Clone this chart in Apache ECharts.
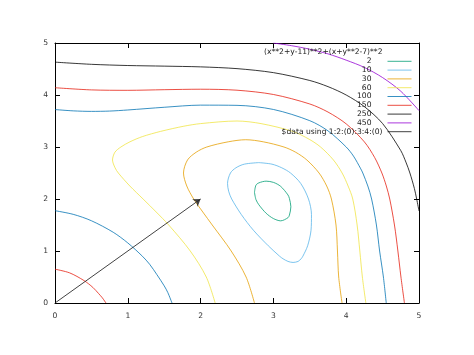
<!DOCTYPE html>
<html><head><meta charset="utf-8">
<script src="https://cdn.jsdelivr.net/npm/echarts@6/dist/echarts.min.js"></script>
<style>html,body{margin:0;padding:0;background:#fff}#c{width:474px;height:355px}</style>
</head><body><div id="c"></div>
<script>
// ---- data ----
const xTicks = [0, 1, 2, 3, 4, 5];
const yTicks = [0, 1, 2, 3, 4, 5];
const keyTitle = '(x**2+y-11)**2+(x+y**2-7)**2';
const levels = ['2', '10', '30', '60', '100', '150', '250', '450'];
const vectorName = '$data using 1:2:(0):3:4:(0)';
const vectors = [[0, 0, 2, 2]];

const contour2 = [[2.74,2.13],[2.76,2.265],[2.8,2.31],[2.9,2.343],[3.0,2.32],[3.1,2.243],[3.2,2.078],[3.22,2.01],[3.24,1.85],[3.22,1.69],[3.2,1.64],[3.1,1.58],[3.0,1.624],[2.9,1.726],[2.8,1.89],[2.76,1.99],[2.74,2.13]];
const contour10 = [[2.8,2.70],[2.98,2.67],[3.115,2.6],[3.235,2.5],[3.375,2.3],[3.482,2.0],[3.523,1.7],[3.517,1.4],[3.47,1.1],[3.405,0.9],[3.38,0.85],[3.34,0.8],[3.27,0.78],[3.2,0.8],[3.133,0.85],[3.085,0.9],[2.93,1.1],[2.725,1.4],[2.56,1.7],[2.427,2.0],[2.385,2.15],[2.37,2.3],[2.41,2.5],[2.485,2.6],[2.6,2.67],[2.8,2.70]];
const contour30 = [[2.74,0],[2.625,0.5],[2.42,1.0],[2.16,1.5],[2.03,1.75],[1.905,2.0],[1.81,2.25],[1.765,2.5],[1.82,2.75],[1.94,2.9],[2.085,3.0],[2.38,3.1],[2.62,3.14],[2.86,3.1],[3.145,3.0],[3.305,2.9],[3.46,2.75],[3.627,2.5],[3.732,2.25],[3.797,2.0],[3.86,1.5],[3.88,1.0],[3.897,0.5],[3.943,0]];
const contour60 = [[2.2,0],[2.078,0.5],[1.858,1.0],[1.562,1.5],[1.39,1.75],[1.21,2.0],[1.028,2.25],[0.87,2.5],[0.825,2.6],[0.79,2.75],[0.823,2.9],[0.905,3.0],[1.03,3.1],[1.2,3.2],[1.45,3.3],[1.77,3.4],[2.0,3.45],[2.5,3.5],[2.83,3.45],[3.265,3.3],[3.49,3.15],[3.648,3.0],[3.825,2.75],[3.944,2.5],[4.026,2.25],[4.09,2.0],[4.15,1.5],[4.187,1.0],[4.222,0.5],[4.27,0]];
const contour100a = [[0,3.72],[0.25,3.695],[0.5,3.685],[0.75,3.691],[1.0,3.712],[1.5,3.764],[2.0,3.805],[2.5,3.801],[3.0,3.722],[3.5,3.506],[3.75,3.31],[4.0,3.0],[4.1,2.825],[4.2,2.58],[4.228,2.5],[4.297,2.25],[4.349,2.0],[4.415,1.5],[4.459,1.0],[4.511,0.5],[4.55,0]];
const contour100b = [[0,1.775],[0.25,1.705],[0.5,1.582],[0.8,1.36],[1.0,1.155],[1.2,0.9],[1.3,0.745],[1.4,0.545],[1.5,0.33],[1.55,0.2],[1.607,0]];
const contour150a = [[0,4.14],[0.5,4.098],[1.0,4.09],[1.5,4.102],[2.0,4.111],[2.5,4.092],[3.0,4.01],[3.5,3.827],[3.75,3.672],[4.0,3.445],[4.25,3.098],[4.39,2.8],[4.49,2.5],[4.551,2.25],[4.598,2.0],[4.663,1.5],[4.71,1.0],[4.752,0.5],[4.8,0]];
const contour150b = [[0,0.65],[0.2,0.58],[0.4,0.43],[0.52,0.3],[0.6,0.18],[0.65,0.1],[0.7,0]];
const contour250 = [[0,4.632],[0.5,4.59],[1.0,4.567],[1.5,4.555],[2.0,4.541],[2.5,4.507],[3.0,4.43],[3.5,4.279],[3.75,4.161],[4.0,4.0],[4.25,3.776],[4.5,3.451],[4.75,2.93],[4.82,2.71],[4.875,2.5],[4.937,2.2],[4.968,2.0],[5.0,1.77]];
const contour450 = [[3.0,5.0],[3.25,4.948],[3.5,4.88],[3.75,4.791],[4.0,4.67],[4.25,4.53],[4.5,4.335],[4.75,4.072],[5.0,3.70]];

// ---- styling ----
const FONT = 'DejaVu Sans';
const FS = 7.6;
const colorsByLevel = {'2':'#009e73','10':'#56b4e9','30':'#e69f00','60':'#f0e442','100':'#0072b2','150':'#e51e10','250':'#000000','450':'#9400d3'};
const vectorColor = '#222222';
const LINE_OPACITY = 0.78;

function contourSeries(name, data) {
  return {
    name: name, type: 'line', data: data, symbol: 'none', showSymbol: false,
    smooth: 0.3, silent: true, animation: false, z: 2,
    lineStyle: { color: colorsByLevel[name], width: 1, opacity: LINE_OPACITY },
    itemStyle: { color: colorsByLevel[name] }
  };
}

const series = [
  { name: keyTitle, type: 'line', data: [], symbol: 'none',
    lineStyle: { color: 'rgba(0,0,0,0)', width: 1 }, itemStyle: { color: 'rgba(0,0,0,0)' } },
  contourSeries('2', contour2),
  contourSeries('10', contour10),
  contourSeries('30', contour30),
  contourSeries('60', contour60),
  contourSeries('100', contour100a),
  contourSeries('100', contour100b),
  contourSeries('150', contour150a),
  contourSeries('150', contour150b),
  contourSeries('250', contour250),
  contourSeries('450', contour450),
  { // legend entry for the vectors
    name: vectorName, type: 'line', data: [], symbol: 'none',
    lineStyle: { color: vectorColor, width: 1, opacity: 0.85 }, itemStyle: { color: vectorColor }
  },
  { // the vectors themselves, drawn with arrow heads
    type: 'lines', coordinateSystem: 'cartesian2d', xAxisIndex: 0, yAxisIndex: 0,
    silent: true, animation: false, z: 3,
    symbol: ['none', 'arrow'], symbolSize: 7,
    lineStyle: { color: vectorColor, width: 1, opacity: 0.85, curveness: 0 },
    data: vectors.map(v => ({ coords: [[v[0], v[1]], [v[2], v[3]]] }))
  }
];

function axisBase(extra) {
  return Object.assign({
    type: 'value', interval: 1,
    splitLine: { show: false },
    axisLine: { show: true, onZero: false, lineStyle: { color: '#000', width: 1 } },
    axisTick: { show: true, inside: true, length: 5, lineStyle: { color: '#000', width: 1 } }
  }, extra);
}

const chart = echarts.init(document.getElementById('c'), null, { renderer: 'canvas' });
chart.setOption({
  animation: false,
  backgroundColor: '#ffffff',
  grid: { left: 55, right: 55, top: 43, bottom: 52, containLabel: false },
  xAxis: [
    axisBase({ position: 'bottom', min: xTicks[0], max: xTicks[xTicks.length-1],
      axisLabel: { show: true, fontSize: FS, fontFamily: FONT, color: '#333', margin: 9 } }),
    axisBase({ position: 'top', min: xTicks[0], max: xTicks[xTicks.length-1], axisLabel: { show: false } })
  ],
  yAxis: [
    axisBase({ position: 'left', min: yTicks[0], max: yTicks[yTicks.length-1],
      axisLabel: { show: true, fontSize: FS, fontFamily: FONT, color: '#333', margin: 7 } }),
    axisBase({ position: 'right', min: yTicks[0], max: yTicks[yTicks.length-1], axisLabel: { show: false } })
  ],
  legend: {
    orient: 'vertical', right: 62, top: 48.5, align: 'right', padding: 0,
    itemWidth: 24, itemHeight: 8, itemGap: 0.8, selectedMode: false,
    itemStyle: { opacity: 0 },
    lineStyle: { width: 1 },
    data: [keyTitle].concat(levels, [vectorName]),
    formatter: function (name) { return levels.indexOf(name) >= 0 ? '{n|' + name + '}' : name; },
    textStyle: {
      fontSize: FS, fontFamily: FONT, color: '#222', lineHeight: 8,
      rich: { n: { fontSize: FS, fontFamily: FONT, color: '#222', lineHeight: 8, padding: [0, 11, 0, 0] } }
    }
  },
  series: series
});
</script>
</body></html>
